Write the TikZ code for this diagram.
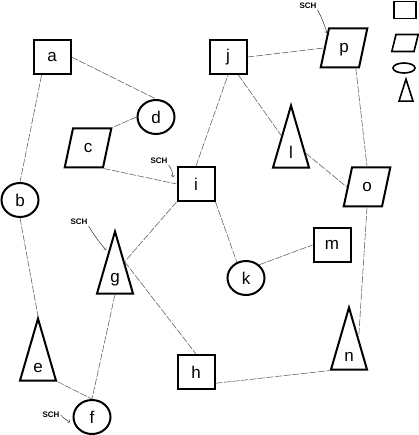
\documentclass[tikz,border=0pt]{standalone}
\usepackage{fontspec}
\setmainfont{Liberation Sans}
\usetikzlibrary{arrows,shapes.geometric}
\tikzstyle{nodestyle}=[draw=black,line width=2pt,inner sep=0pt,font=\fontsize{17}{20}\selectfont]
\tikzstyle{boxstyle}=[nodestyle,rectangle,minimum width=37pt,minimum height=34pt]
\tikzstyle{ovalstyle}=[nodestyle,ellipse,minimum width=37pt,minimum height=34pt]
\tikzstyle{slantstyle}=[nodestyle,trapezium,trapezium left angle=78,trapezium right angle=102,text width=30pt,align=center,text height=24pt,text depth=15pt]
\tikzstyle{conestyle}=[nodestyle,isosceles triangle,shape border rotate=90,isosceles triangle stretches,minimum width=36pt,minimum height=62pt]

\begin{document}
\begin{tikzpicture}[x=1pt,y=-1pt]
	\tikzstyle{link}=[draw=black!65,line width=0.55pt,dash pattern=on 7pt off 1.6pt]
	\tikzstyle{schnote}=[font=\fontsize{8}{9}\selectfont\bfseries,inner sep=1pt]
	\tikzstyle{scharrow}=[->,>=to,line width=0.5pt,black!80]
	\useasboundingbox (0,0) rectangle (418,435);

	\node[boxstyle]		(a) at (52,57)		{a};
	\node[ovalstyle]	(b) at (20,200)		{b};
	\node[slantstyle]	(c) at (88,148)		{c};
	\node[ovalstyle]	(d) at (156,117)	{d};
	\node[conestyle]	(e) at (38,368)		{e};
	\node[ovalstyle]	(f) at (92,417)		{f};
	\node[conestyle]	(g) at (115,280)	{g};
	\node[boxstyle]		(h) at (196,372)	{h};
	\node[boxstyle]		(i) at (196,184)	{i};
	\node[boxstyle]		(j) at (228,57)		{j};
	\node[ovalstyle]	(k) at (246,278)	{k};
	\node[conestyle]	(l) at (291,152)	{l};
	\node[boxstyle]		(m) at (332,245)	{m};
	\node[conestyle]	(n) at (349,357)	{n};
	\node[slantstyle]	(o) at (367,187)	{o};
	\node[slantstyle]	(p) at (344,48)		{p};

	\node[schnote]	(schi) at (159,161) {SCH};
	\node[schnote]	(schp) at (308,6) {SCH};
	\node[schnote]	(schg) at (79,222) {SCH};
	\node[schnote]	(schf) at (51,415) {SCH};
	\coordinate (ti) at (173,177);
	\coordinate (tp) at (327,33);
	\coordinate (tg) at (106,250);
	\coordinate (tf) at (70,422);

	\node[draw,line width=1.6pt,minimum width=22pt,minimum height=17pt,inner sep=0pt] (keybox) at (405,10) {};
	\node[draw,line width=1.6pt,trapezium,trapezium left angle=76,trapezium right angle=104,inner sep=0pt,text width=18pt,text height=17pt,text depth=0pt] (keyslant) at (405,43) {};
	\node[draw,line width=1.6pt,ellipse,minimum width=22pt,minimum height=10pt,inner sep=0pt] (keyoval) at (404,68) {};
	\node[draw,line width=1.6pt,isosceles triangle,shape border rotate=90,isosceles triangle stretches,minimum width=14pt,minimum height=22pt,inner sep=0pt] (keycone) at (406,96) {};

\path[link] (a.east) edge (d.north)
			(a.240) edge (b.north)
			(d.west) edge (c.top right corner)
			(c.bottom right corner) edge (i.west)
			(i.north) edge (j.south)
			(j.east) edge (p.west)
			(j.-60) edge (l.left side)
			(l.-5) edge (o.west)
			(p.-60) edge (o.north)
			(i.south west) edge (g.right side)
			(g.right side) edge (h.north)
			(i.south east) edge (k.120)
			(k.45) edge (m.west)
			(o.south) edge (n.right side)
			(h.-30) edge (n.left corner)
			(g.lower side) edge (f.north)
			(b.south) edge (e.apex)
			(e.right corner) edge (f.north);

\path[scharrow] (schi.south east) edge[bend left=15] (ti)
			(schp.south east) edge[bend left=5] (tp)
			(schg.south east) edge[bend right=5] (tg)
			(schf.east) edge[bend right=10] (tf);
\end{tikzpicture}
\end{document}
